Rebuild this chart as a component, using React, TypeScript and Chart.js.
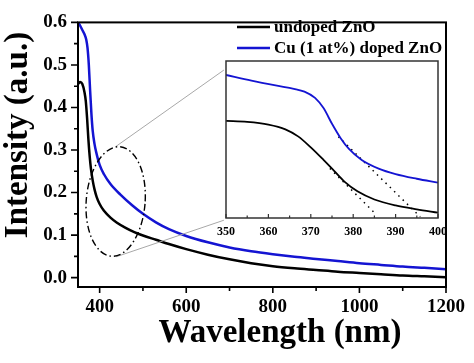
import React, { useEffect, useRef } from 'react';
import { Chart, registerables } from 'chart.js';

Chart.register(...registerables);

// ---------- main data ----------
const undopedWl = [350, 355, 360, 365, 368, 371, 374, 377, 380, 384, 388, 393, 400, 410, 425, 440, 460, 480, 500, 530, 560, 600, 650, 700, 750, 800, 850, 900, 950, 1000, 1050, 1100, 1150, 1200];
const undopedVal = [0.455, 0.46, 0.455, 0.436, 0.415, 0.375, 0.325, 0.285, 0.255, 0.228, 0.208, 0.19, 0.173, 0.157, 0.141, 0.129, 0.117, 0.107, 0.099, 0.089, 0.079, 0.067, 0.054, 0.043, 0.034, 0.027, 0.022, 0.018, 0.014, 0.011, 0.008, 0.005, 0.003, 0.001];

const dopedWl = [350, 354, 360, 365, 369, 372, 375, 378, 381, 384, 388, 392, 400, 410, 425, 448, 475, 500, 530, 560, 600, 650, 700, 750, 800, 850, 900, 950, 1000, 1050, 1100, 1150, 1200];
const dopedVal = [0.6, 0.594, 0.582, 0.572, 0.56, 0.54, 0.5, 0.44, 0.385, 0.345, 0.315, 0.295, 0.265, 0.243, 0.22, 0.195, 0.17, 0.15, 0.13, 0.114, 0.098, 0.083, 0.071, 0.062, 0.055, 0.049, 0.044, 0.039, 0.034, 0.03, 0.026, 0.023, 0.02];

const seriesLabels = ['undoped ZnO', 'Cu (1 at%) doped ZnO'];
const seriesColors = ['#000000', '#1414d2'];

const xMajorTicks = [400, 600, 800, 1000, 1200];
const xMinorTicks = [500, 700, 900, 1100];
const yMajorTicks = [0, 0.1, 0.2, 0.3, 0.4, 0.5, 0.6];
const yMinorTicks = [0.05, 0.15, 0.25, 0.35, 0.45, 0.55];
const xTitle = 'Wavelength (nm)';
const yTitle = 'Intensity (a.u.)';

// zoom marker (ellipse) and connectors, in main data units
const ellipseCenter = [437, 0.179];
const ellipseRadii = [68, 0.129];
const ellipseTilt = 0.08;
const connectorTop = [[437, 0.308], [687, 0.488]];
const connectorBottom = [[438, 0.049], [687, 0.135]];

// ---------- inset data ----------
const insetUndopedWl = [350, 355, 360, 364, 367, 370, 373, 375.5, 378, 381, 385, 390, 395, 400];
const insetUndopedVal = [0.618, 0.612, 0.595, 0.565, 0.52, 0.45, 0.37, 0.3, 0.23, 0.17, 0.118, 0.08, 0.055, 0.034];
const insetDopedWl = [350, 356, 362, 366, 368.5, 371, 373, 375, 377, 379, 382, 386, 390, 395, 400];
const insetDopedVal = [0.911, 0.875, 0.843, 0.823, 0.805, 0.765, 0.7, 0.6, 0.51, 0.44, 0.37, 0.315, 0.28, 0.25, 0.225];
const tangentUndoped = [[374.5, 0.316], [385.5, 0.02]];
const tangentDoped = [[376.5, 0.518], [395.8, 0.008]];
const insetXTicks = [350, 360, 370, 380, 390, 400];
const insetXMinor = [355, 365, 375, 385, 395];

const FONT = "'Liberation Serif', 'Times New Roman', serif";

const toPts = (xs: number[], ys: number[]) => xs.map((v, i) => ({ x: v, y: ys[i] }));

const mainDecor = {
  id: 'mainDecor',
  afterDraw(chart: any) {
    const { ctx, chartArea: a } = chart;
    const x = chart.scales.x;
    const y = chart.scales.y;
    const px = (v: number) => x.getPixelForValue(v);
    const py = (v: number) => y.getPixelForValue(v);
    ctx.save();
    // connectors
    ctx.strokeStyle = '#a8a8a8';
    ctx.lineWidth = 1;
    for (const seg of [connectorTop, connectorBottom]) {
      ctx.beginPath();
      ctx.moveTo(px(seg[0][0]), py(seg[0][1]));
      ctx.lineTo(px(seg[1][0]), py(seg[1][1]));
      ctx.stroke();
    }
    // ellipse
    const cx = px(ellipseCenter[0]);
    const cy = py(ellipseCenter[1]);
    const rx = px(ellipseCenter[0] + ellipseRadii[0]) - cx;
    const ry = cy - py(ellipseCenter[1] + ellipseRadii[1]);
    ctx.strokeStyle = '#000';
    ctx.lineWidth = 1.4;
    ctx.setLineDash([7, 3, 1.5, 3]);
    ctx.beginPath();
    ctx.ellipse(cx, cy, rx, ry, ellipseTilt, 0, Math.PI * 2);
    ctx.stroke();
    ctx.setLineDash([]);
    // frame
    ctx.lineWidth = 2;
    ctx.strokeRect(a.left, a.top, a.right - a.left, a.bottom - a.top);
    // ticks
    ctx.lineWidth = 1.6;
    ctx.beginPath();
    for (const v of yMajorTicks) { ctx.moveTo(a.left, py(v)); ctx.lineTo(a.left - 7, py(v)); }
    for (const v of yMinorTicks) { ctx.moveTo(a.left, py(v)); ctx.lineTo(a.left - 4, py(v)); }
    for (const v of xMajorTicks) { ctx.moveTo(px(v), a.bottom); ctx.lineTo(px(v), a.bottom + 6); }
    for (const v of xMinorTicks) { ctx.moveTo(px(v), a.bottom); ctx.lineTo(px(v), a.bottom + 4); }
    ctx.stroke();
    // legend
    ctx.font = `bold 17px ${FONT}`;
    ctx.textAlign = 'left';
    ctx.textBaseline = 'alphabetic';
    const rows = [27, 48];
    seriesLabels.forEach((lab, i) => {
      ctx.strokeStyle = seriesColors[i];
      ctx.lineWidth = 2.5;
      ctx.beginPath();
      ctx.moveTo(237, rows[i]);
      ctx.lineTo(270, rows[i]);
      ctx.stroke();
      ctx.fillStyle = '#000';
      ctx.fillText(lab, 274, rows[i] + 5);
    });
    // axis titles
    ctx.fillStyle = '#000';
    ctx.font = `bold 33px ${FONT}`;
    ctx.textAlign = 'center';
    ctx.fillText(xTitle, 280, 342);
    ctx.save();
    ctx.translate(27, 135);
    ctx.rotate(-Math.PI / 2);
    ctx.fillText(yTitle, 0, 0);
    ctx.restore();
    ctx.restore();
  },
};

const insetDecor = {
  id: 'insetDecor',
  afterDraw(chart: any) {
    const { ctx, chartArea: a } = chart;
    const x = chart.scales.x;
    ctx.save();
    ctx.strokeStyle = '#333';
    ctx.lineWidth = 1.5;
    ctx.strokeRect(a.left, a.top, a.right - a.left, a.bottom - a.top);
    ctx.lineWidth = 1.2;
    ctx.beginPath();
    for (const v of insetXTicks) { const p = x.getPixelForValue(v); ctx.moveTo(p, a.bottom); ctx.lineTo(p, a.bottom - 4); }
    for (const v of insetXMinor) { const p = x.getPixelForValue(v); ctx.moveTo(p, a.bottom); ctx.lineTo(p, a.bottom - 2.5); }
    ctx.stroke();
    ctx.restore();
  },
};

export default function App() {
  const mainRef = useRef<HTMLCanvasElement>(null);
  const insetRef = useRef<HTMLCanvasElement>(null);

  useEffect(() => {
    const main = new Chart(mainRef.current as HTMLCanvasElement, {
      type: 'line',
      data: {
        datasets: [
          { label: seriesLabels[0], data: toPts(undopedWl, undopedVal), borderColor: seriesColors[0], borderWidth: 2.5, pointRadius: 0, cubicInterpolationMode: 'monotone', fill: false },
          { label: seriesLabels[1], data: toPts(dopedWl, dopedVal), borderColor: seriesColors[1], borderWidth: 2.5, pointRadius: 0, cubicInterpolationMode: 'monotone', fill: false },
        ],
      },
      options: {
        animation: false,
        responsive: false,
        layout: { padding: { top: 11, right: 22, left: 0, bottom: 0 } },
        plugins: { legend: { display: false }, tooltip: { enabled: false } },
        scales: {
          x: {
            type: 'linear', min: 350, max: 1200,
            grid: { display: false, drawTicks: false },
            border: { display: false },
            afterBuildTicks: (s: any) => { s.ticks = xMajorTicks.map((v) => ({ value: v })); },
            afterFit: (s: any) => { s.height = 76; },
            ticks: { color: '#000', padding: 9, maxRotation: 0, font: { family: FONT, size: 19, weight: 'bold' }, callback: (v: any) => String(v) },
          },
          y: {
            type: 'linear', min: -0.022, max: 0.6,
            grid: { display: false, drawTicks: false },
            border: { display: false },
            afterBuildTicks: (s: any) => { s.ticks = yMajorTicks.map((v) => ({ value: v })); },
            afterFit: (s: any) => { s.width = 78; },
            ticks: { color: '#000', padding: 11, font: { family: FONT, size: 19, weight: 'bold' }, callback: (v: any) => Number(v).toFixed(1) },
          },
        },
      } as any,
      plugins: [mainDecor],
    });

    const inset = new Chart(insetRef.current as HTMLCanvasElement, {
      type: 'line',
      data: {
        datasets: [
          { data: toPts(insetUndopedWl, insetUndopedVal), borderColor: seriesColors[0], borderWidth: 1.8, pointRadius: 0, cubicInterpolationMode: 'monotone', fill: false },
          { data: toPts(insetDopedWl, insetDopedVal), borderColor: seriesColors[1], borderWidth: 1.8, pointRadius: 0, cubicInterpolationMode: 'monotone', fill: false },
          { data: tangentUndoped.map((p) => ({ x: p[0], y: p[1] })), borderColor: '#000', borderWidth: 1.5, borderDash: [1.5, 4.5], pointRadius: 0, fill: false },
          { data: tangentDoped.map((p) => ({ x: p[0], y: p[1] })), borderColor: '#000', borderWidth: 1.5, borderDash: [1.5, 4.5], pointRadius: 0, fill: false },
        ],
      },
      options: {
        animation: false,
        responsive: false,
        layout: { padding: { top: 6, right: 22, left: 26, bottom: 0 } },
        plugins: { legend: { display: false }, tooltip: { enabled: false } },
        scales: {
          x: {
            type: 'linear', min: 350, max: 400,
            grid: { display: false, drawTicks: false },
            border: { display: false },
            afterBuildTicks: (s: any) => { s.ticks = insetXTicks.map((v) => ({ value: v })); },
            afterFit: (s: any) => { s.height = 27; },
            ticks: { color: '#000', padding: 7, maxRotation: 0, font: { family: FONT, size: 12, weight: 'bold' }, callback: (v: any) => String(v) },
          },
          y: { type: 'linear', min: 0, max: 1, display: false },
        },
      } as any,
      plugins: [insetDecor],
    });

    return () => { main.destroy(); inset.destroy(); };
  }, []);

  return (
    <div style={{ position: 'absolute', left: 0, top: 0, width: 474, height: 363, background: '#fff' }}>
      <canvas ref={mainRef} width={474} height={363} style={{ position: 'absolute', left: 0, top: 0, width: 474, height: 363 }} />
      <canvas ref={insetRef} width={260} height={190} style={{ position: 'absolute', left: 200, top: 55, width: 260, height: 190 }} />
    </div>
  );
}
